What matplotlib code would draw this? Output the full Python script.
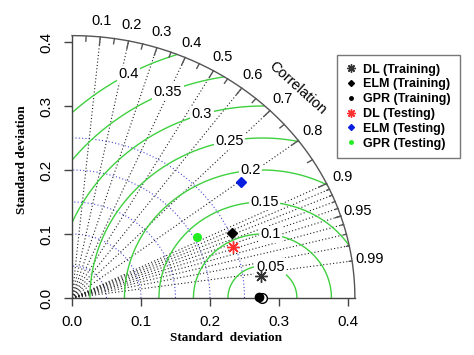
import numpy as np
import matplotlib
matplotlib.use('Agg')
import matplotlib.pyplot as plt
from matplotlib.lines import Line2D

# ---- data ----
models = ['DL (Training)', 'ELM (Training)', 'GPR (Training)',
          'DL (Testing)', 'ELM (Testing)', 'GPR (Testing)']
sd_values = [0.2756, 0.2534, 0.2710, 0.2460, 0.3042, 0.2045]
corr_values = [0.9924, 0.9155, 0.99997, 0.9470, 0.8037, 0.8835]
ref_sd = 0.276
max_sd = 0.41
sd_ticks = [0.0, 0.1, 0.2, 0.3, 0.4]
sd_tick_labels = ['0.0', '0.1', '0.2', '0.3', '0.4']
corr_labels = [0.1, 0.2, 0.3, 0.4, 0.5, 0.6, 0.7, 0.8, 0.9, 0.95, 0.99]
corr_lines = [0.1, 0.2, 0.3, 0.4, 0.5, 0.6, 0.7, 0.8, 0.9,
              0.91, 0.92, 0.93, 0.94, 0.95, 0.96, 0.97, 0.98, 0.99]
rms_levels = [0.05, 0.1, 0.15, 0.2, 0.25, 0.3, 0.35, 0.4]
sd_arc_levels = [0.05, 0.1, 0.15, 0.2, 0.25]

# ---- styles ----
marker_styles = [(8, 2, 0), 'D', 'o', (8, 2, 0), 'D', 'o']
marker_colors = ['#333333', 'black', 'black', '#ff3030', '#0a1ee0', '#22ee22']
marker_sizes = [9, 5, 6, 9, 5, 5.5]
legend_sizes = [6, 3, 2.5, 6, 3, 2.5]
green = '#3fd03f'
blue = '#4a4ad8'
font = 'Liberation Sans'

W, H = 474, 355
fig = plt.figure(figsize=(W / 100, H / 100), dpi=100)
x0, y0 = 72, 298
ppx, ppy = 690, 640
ax = fig.add_axes([x0 / W, (H - y0) / H, max_sd * ppx / W, max_sd * ppy / H])
ax.set_xlim(0, max_sd)
ax.set_ylim(0, max_sd)
ax.patch.set_alpha(0)
for s in ['top', 'right']:
    ax.spines[s].set_visible(False)
for s in ['left', 'bottom']:
    ax.spines[s].set_color('#444444')
    ax.spines[s].set_linewidth(1.0)

ax.set_xticks(sd_ticks)
ax.set_xticklabels(sd_tick_labels)
ax.set_yticks(sd_ticks)
ax.set_yticklabels(sd_tick_labels, rotation=90, va='center')
ax.tick_params(direction='out', length=6, width=1, color='#444444',
               labelsize=11)
ax.tick_params(axis='x', pad=6)
ax.tick_params(axis='y', pad=7.5)
for lab in ax.get_xticklabels() + ax.get_yticklabels():
    lab.set_family(font)

th = np.linspace(0, np.pi / 2, 300)
# outer arc
ax.plot(max_sd * np.cos(th), max_sd * np.sin(th), color='#555555', lw=1.0,
        clip_on=False, zorder=3)

# sd arcs (blue dotted)
for r in sd_arc_levels:
    ax.plot(r * np.cos(th), r * np.sin(th), color=blue, lw=0.8,
            ls=(0, (1, 2)), zorder=2)

# correlation lines
for c in corr_lines:
    a = np.arccos(c)
    ax.plot([0, max_sd * np.cos(a)], [0, max_sd * np.sin(a)], color='#222222',
            lw=0.8, ls=(0, (1, 2)), zorder=2)

# ticks on arc
for cs, frac in [(np.arange(0.1, 0.95, 0.1), 0.97),
                 (np.arange(0.05, 0.96, 0.1), 0.98),
                 (np.arange(0.91, 0.995, 0.01), 0.99)]:
    for c in cs:
        a = np.arccos(c)
        ax.plot([max_sd * np.cos(a), frac * max_sd * np.cos(a)],
                [max_sd * np.sin(a), frac * max_sd * np.sin(a)],
                color='#555555', lw=1.0, zorder=3)

# correlation labels
for c in corr_labels:
    a = np.arccos(c)
    ax.text(0.435 * np.cos(a), 0.435 * np.sin(a), f'{c:g}', ha='center',
            va='center', fontsize=10.5, family=font, clip_on=False)
ax.text(0.3275, 0.328, 'Correlation', rotation=-42, ha='center', va='center',
        fontsize=10.5, family=font, rotation_mode='anchor')

# RMS contours (green)
tt = np.linspace(0, np.pi, 600)
label_angles = np.radians(np.linspace(77, 119, len(rms_levels)))
for g, la in zip(rms_levels, label_angles):
    xc = ref_sd + g * np.cos(tt)
    yc = g * np.sin(tt)
    m = (xc >= 0) & (xc ** 2 + yc ** 2 <= max_sd ** 2)
    xc = np.where(m, xc, np.nan)
    ax.plot(xc, yc, color=green, lw=1.0, zorder=2.5)
    ax.text(ref_sd + g * np.cos(la), g * np.sin(la), f'{g:g}', ha='center',
            va='center', fontsize=10.5, family=font, zorder=4,
            bbox=dict(boxstyle='square,pad=0.1', fc='white', ec='none'))

# reference point
ax.plot([ref_sd], [0], 'o', mfc='white', mec='black', ms=7, mew=1,
        clip_on=False, zorder=5)

# model points
handles = []
for name, sd, cr, mk, col, ms, ls in zip(models, sd_values, corr_values,
                                          marker_styles, marker_colors,
                                          marker_sizes, legend_sizes):
    a = np.arccos(cr)
    ax.plot([sd * np.cos(a)], [sd * np.sin(a)], ls='none', marker=mk,
            color=col, ms=ms, mew=1.0, clip_on=False, zorder=6)
    handles.append(Line2D([], [], ls='none', marker=mk, color=col, ms=ls,
                          mew=1.0))

leg = fig.legend(handles, models, loc='upper left',
                 bbox_to_anchor=(337 / W, 1 - 55 / H), borderaxespad=0,
                 frameon=True, fancybox=False, handlelength=0.8,
                 handletextpad=0.6, labelspacing=0.22, borderpad=0.7,
                 prop={'family': font, 'weight': 'bold', 'size': 9})
leg.get_frame().set_edgecolor('#555555')
leg.get_frame().set_linewidth(1.0)

fig.text(22 / W, 1 - 160 / H, 'Standard deviation', rotation=90, ha='center',
         va='center', family='Liberation Serif', weight='bold', fontsize=9.5)
fig.text(226 / W, 1 - 338 / H, 'Standard  deviation', ha='center',
         va='center', family='Liberation Serif', weight='bold', fontsize=9.5)

fig.savefig('out.png', dpi=100)
